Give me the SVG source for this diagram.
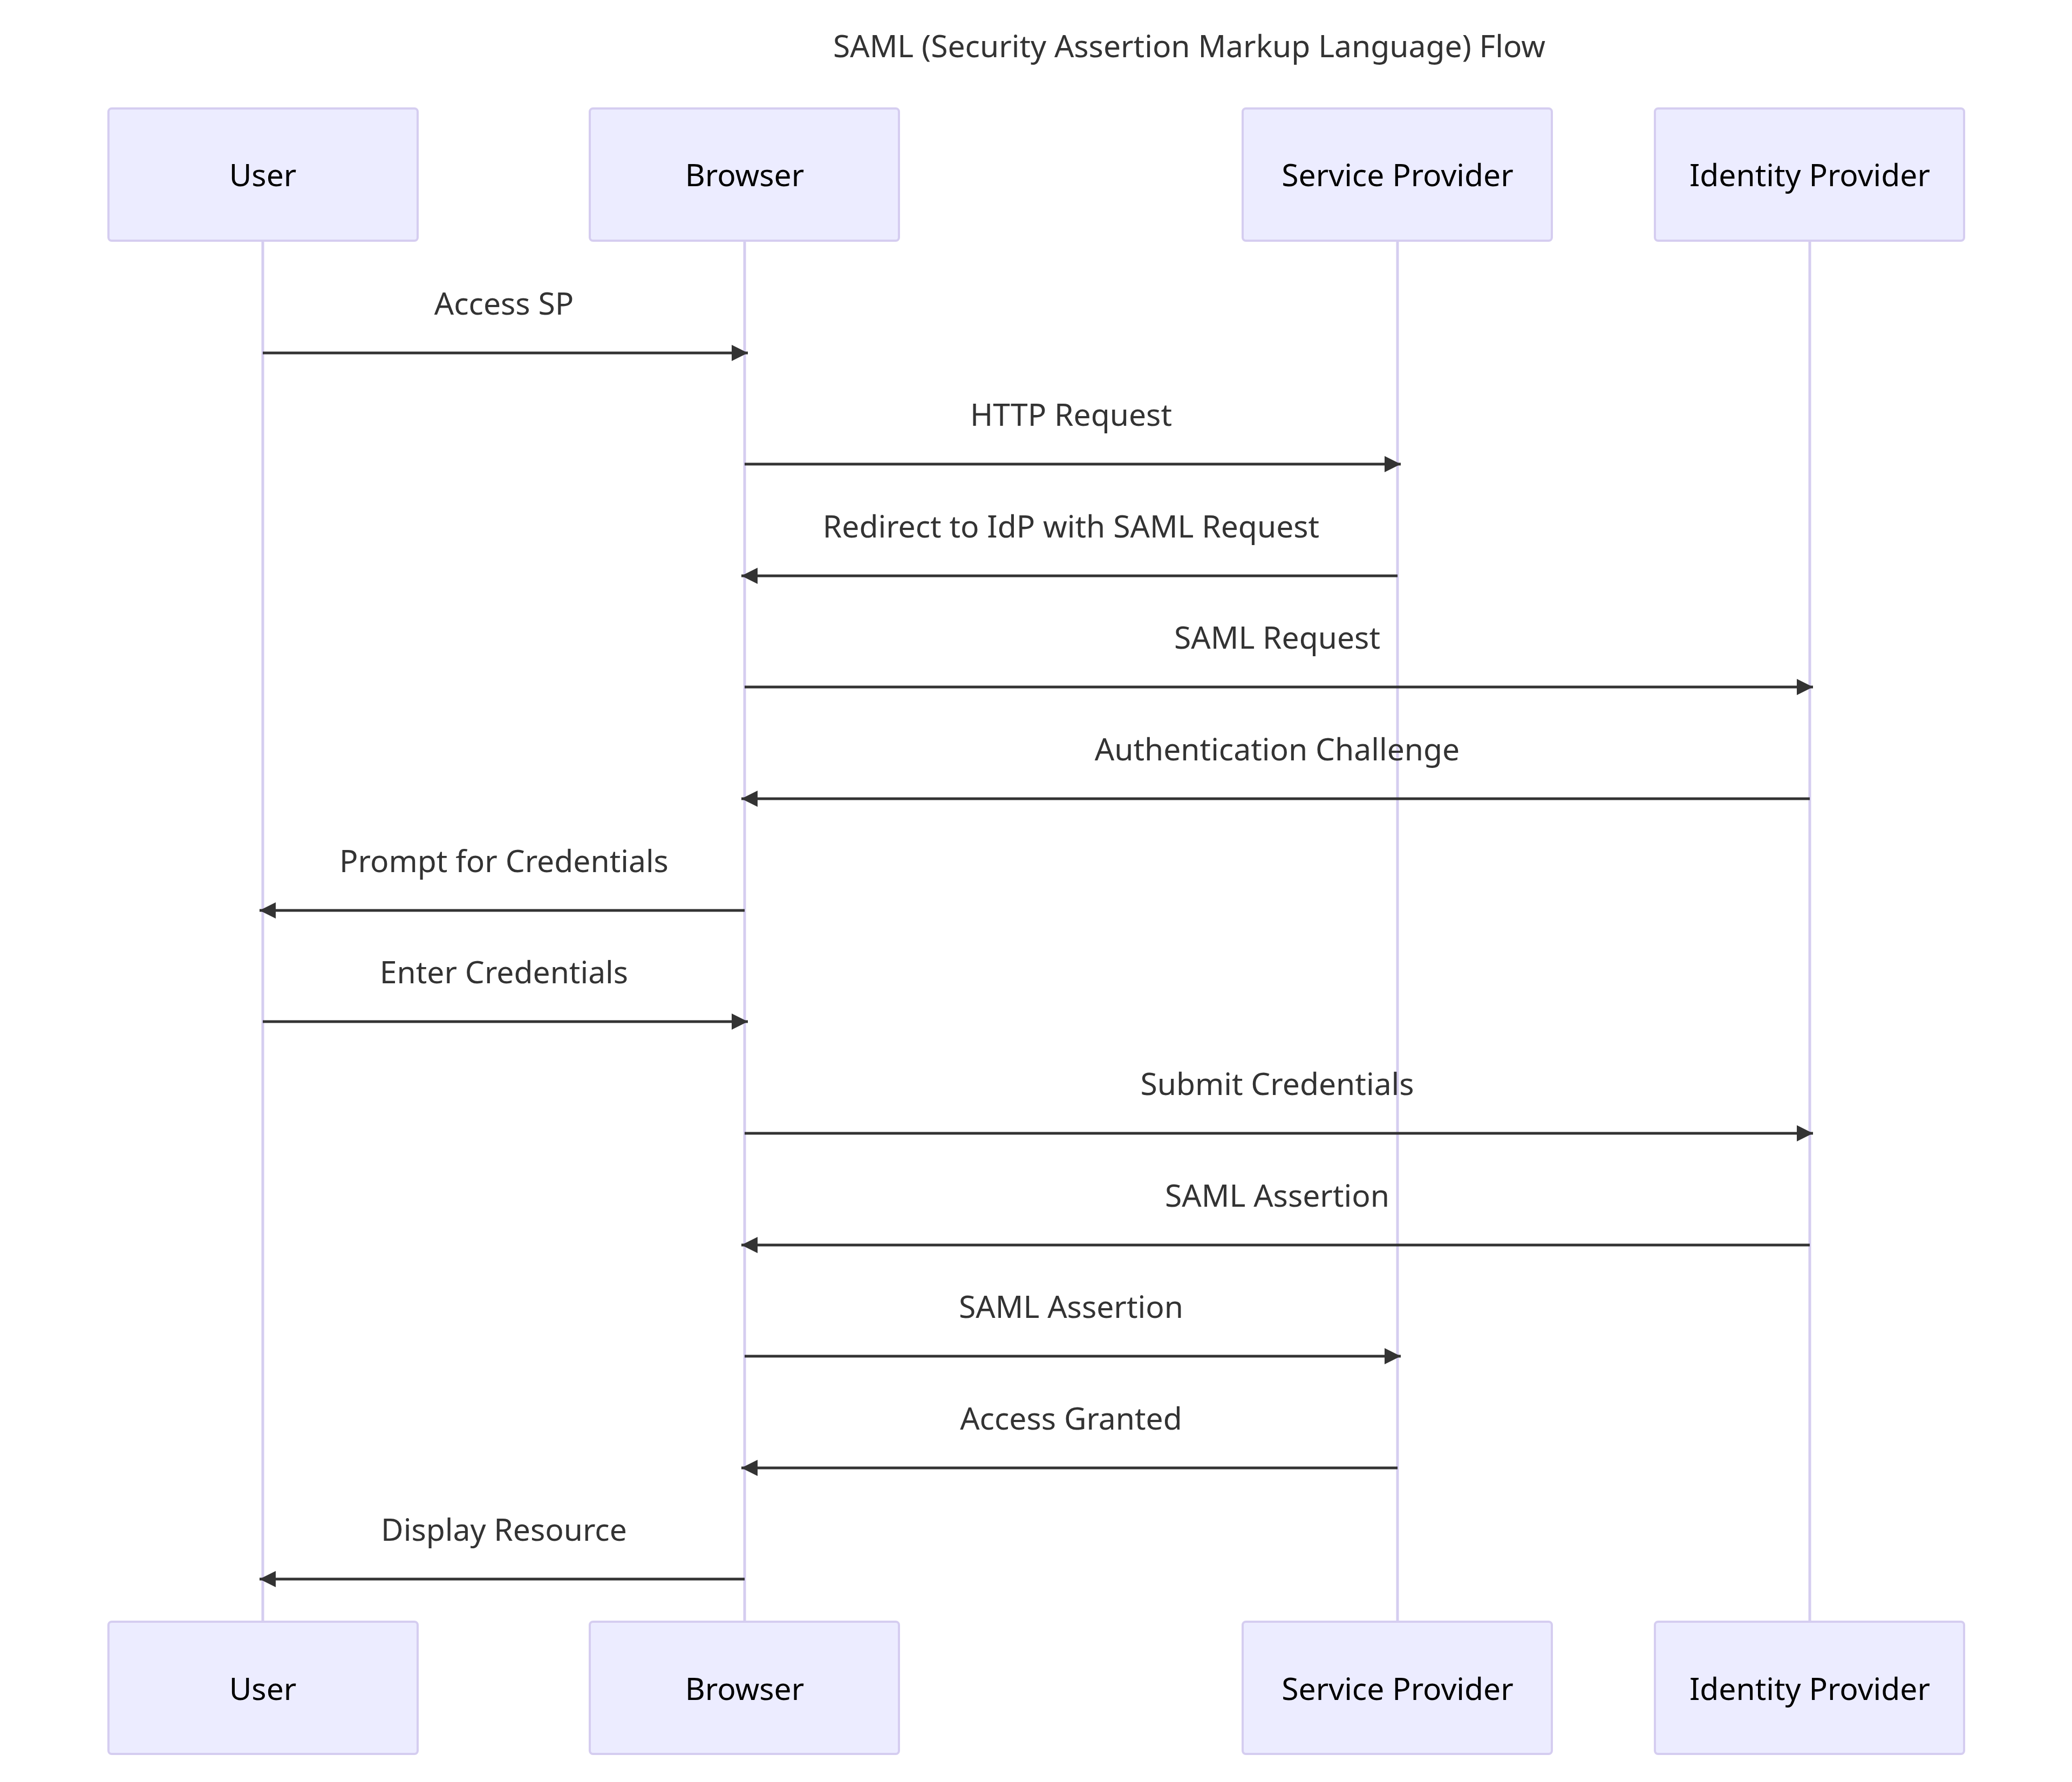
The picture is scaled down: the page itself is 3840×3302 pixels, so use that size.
<svg xmlns="http://www.w3.org/2000/svg" width="3840" height="3302" viewBox="0 0 3840 3302">
<style>
.box{fill:#ececff;stroke:#d5cdf0;stroke-width:4}
.lbl{font-family:"Noto Sans","Open Sans",sans-serif;font-size:57px;fill:#000;text-anchor:middle;dominant-baseline:central}
.life{stroke:#d5cdf0;stroke-width:5}
.msg{stroke:#333;stroke-width:5;fill:none;marker-end:url(#ah)}
.mt{font-family:"Noto Sans","Open Sans",sans-serif;font-size:57px;fill:#333;text-anchor:middle;dominant-baseline:central}
</style>
<defs><marker id="ah" markerUnits="userSpaceOnUse" viewBox="0 0 30 30" refX="30" refY="15" markerWidth="30" markerHeight="30" orient="auto"><path d="M0,0L30,15L0,30z" fill="#333"/></marker></defs>
<rect width="3840" height="3302" fill="#fff"/>
<text x="2204" y="84" class="mt">SAML (Security Assertion Markup Language) Flow</text>
<g id="lifelines">
<line class="life" x1="487" y1="446" x2="487" y2="3005"/>
<line class="life" x1="1380" y1="446" x2="1380" y2="3005"/>
<line class="life" x1="2590" y1="446" x2="2590" y2="3005"/>
<line class="life" x1="3354" y1="446" x2="3354" y2="3005"/>
</g>
<g id="user"><rect class="box" x="201" y="201" width="573" height="245" rx="6"/><text class="lbl" x="487" y="323">User</text><rect class="box" x="201" y="3005" width="573" height="245" rx="6"/><text class="lbl" x="487" y="3128">User</text></g>
<g id="browser"><rect class="box" x="1093" y="201" width="573" height="245" rx="6"/><text class="lbl" x="1380" y="323">Browser</text><rect class="box" x="1093" y="3005" width="573" height="245" rx="6"/><text class="lbl" x="1380" y="3128">Browser</text></g>
<g id="sp"><rect class="box" x="2303" y="201" width="573" height="245" rx="6"/><text class="lbl" x="2590" y="323">Service Provider</text><rect class="box" x="2303" y="3005" width="573" height="245" rx="6"/><text class="lbl" x="2590" y="3128">Service Provider</text></g>
<g id="idp"><rect class="box" x="3067" y="201" width="573" height="245" rx="6"/><text class="lbl" x="3354" y="323">Identity Provider</text><rect class="box" x="3067" y="3005" width="573" height="245" rx="6"/><text class="lbl" x="3354" y="3128">Identity Provider</text></g>
<g id="connectors">
<line class="msg" x1="487" y1="654" x2="1386" y2="654"/><text class="mt" x="934" y="561">Access SP</text>
<line class="msg" x1="1380" y1="860" x2="2596" y2="860"/><text class="mt" x="1985" y="767">HTTP Request</text>
<line class="msg" x1="2590" y1="1067" x2="1374" y2="1067"/><text class="mt" x="1985" y="974">Redirect to IdP with SAML Request</text>
<line class="msg" x1="1380" y1="1273" x2="3360" y2="1273"/><text class="mt" x="2367" y="1180">SAML Request</text>
<line class="msg" x1="3354" y1="1480" x2="1374" y2="1480"/><text class="mt" x="2367" y="1387">Authentication Challenge</text>
<line class="msg" x1="1380" y1="1687" x2="481" y2="1687"/><text class="mt" x="934" y="1594">Prompt for Credentials</text>
<line class="msg" x1="487" y1="1893" x2="1386" y2="1893"/><text class="mt" x="934" y="1800">Enter Credentials</text>
<line class="msg" x1="1380" y1="2100" x2="3360" y2="2100"/><text class="mt" x="2367" y="2007">Submit Credentials</text>
<line class="msg" x1="3354" y1="2307" x2="1374" y2="2307"/><text class="mt" x="2367" y="2214">SAML Assertion</text>
<line class="msg" x1="1380" y1="2513" x2="2596" y2="2513"/><text class="mt" x="1985" y="2420">SAML Assertion</text>
<line class="msg" x1="2590" y1="2720" x2="1374" y2="2720"/><text class="mt" x="1985" y="2627">Access Granted</text>
<line class="msg" x1="1380" y1="2926" x2="481" y2="2926"/><text class="mt" x="934" y="2833">Display Resource</text>
</g>
</svg>
